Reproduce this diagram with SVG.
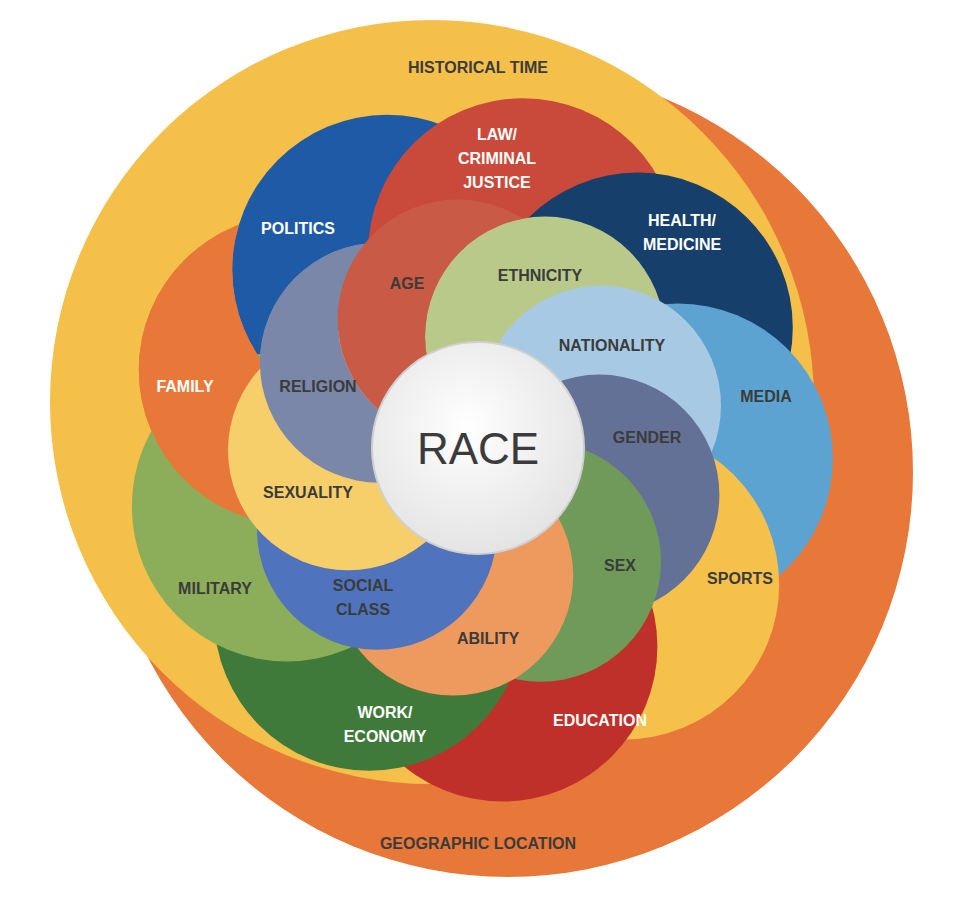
<svg xmlns="http://www.w3.org/2000/svg" width="974" height="904" viewBox="0 0 974 904">
<style>
text{font-family:"Liberation Sans",Arial,sans-serif;font-size:16px;text-anchor:middle;font-weight:bold}
.w{fill:#ffffff}.d{fill:#3b3b3b}
</style>
<defs>
<mask id="mMid"><rect width="974" height="904" fill="#fff"/>
<circle cx="387.2" cy="269.8" r="155" fill="#000"/><circle cx="523" cy="253.2" r="155" fill="#000"/><circle cx="637.8" cy="327.6" r="155" fill="#000"/><circle cx="677.8" cy="458.4" r="155" fill="#000"/></mask>
<mask id="mIn"><rect width="974" height="904" fill="#fff"/>
<circle cx="457.7" cy="319.6" r="120" fill="#000"/><circle cx="545" cy="336.6" r="120" fill="#000"/><circle cx="601" cy="405.6" r="120" fill="#000"/><circle cx="599.4" cy="494.6" r="120" fill="#000"/></mask>
<mask id="mAge"><rect width="974" height="904" fill="#fff"/>
<circle cx="545" cy="336.6" r="120" fill="#000"/><circle cx="601" cy="405.6" r="120" fill="#000"/><circle cx="599.4" cy="494.6" r="120" fill="#000"/></mask>
<radialGradient id="g" cx="0.45" cy="0.4" r="0.6"><stop offset="0" stop-color="#ffffff"/><stop offset="1" stop-color="#e4e4e4"/></radialGradient>
</defs>
<rect width="974" height="904" fill="#fff"/>
<g id="geographic-location"><circle cx="508" cy="472" r="405" fill="#e8783a"/></g>
<g id="historical-time"><circle cx="432" cy="402" r="382" fill="#f5c04a"/></g>
<g id="middle-ring">
<circle cx="293.8" cy="369.8" r="155" fill="#e8783a"/>
<circle id="politics" cx="387.2" cy="269.8" r="155" fill="#1f5aa6"/>
<circle id="law" cx="523" cy="253.2" r="155" fill="#c94a3a"/>
<circle id="health" cx="637.8" cy="327.6" r="155" fill="#163f6b"/>
<circle id="media" cx="677.8" cy="458.4" r="155" fill="#5ca3d2"/>
<circle id="sports" cx="624.2" cy="584.4" r="155" fill="#f6c14b"/>
<circle id="education" cx="502.4" cy="646.6" r="155" fill="#c0302b"/>
<circle id="work" cx="369" cy="615.8" r="155" fill="#3f7a3a"/>
<circle id="military" cx="286.8" cy="506.4" r="155" fill="#8cae5a"/>
<circle id="family" cx="293.8" cy="369.8" r="155" fill="#e8783a" mask="url(#mMid)"/>
</g>
<g id="inner-ring">
<circle cx="379.9" cy="362.7" r="120" fill="#7a87a8"/>
<circle cx="457.7" cy="319.6" r="120" fill="#c85a46"/>
<circle id="ethnicity" cx="545" cy="336.6" r="120" fill="#b8c98a"/>
<circle id="nationality" cx="601" cy="405.6" r="120" fill="#a7c9e3"/>
<circle id="gender" cx="599.4" cy="494.6" r="120" fill="#647196"/>
<circle id="sex" cx="541" cy="561.7" r="120" fill="#6f9a5a"/>
<circle id="ability" cx="453.2" cy="575.6" r="120" fill="#ee9a5e"/>
<circle id="social-class" cx="377" cy="529.8" r="120" fill="#4f74bd"/>
<circle id="sexuality" cx="348" cy="450.3" r="120" fill="#f6cf6b"/>
<circle id="religion" cx="379.9" cy="362.7" r="120" fill="#7a87a8" mask="url(#mIn)"/>
<circle id="age" cx="457.7" cy="319.6" r="120" fill="#c85a46" mask="url(#mAge)"/>
</g>
<g id="race">
<circle cx="478" cy="448" r="106" fill="url(#g)" stroke="#d0d0d0" stroke-width="2"/>
<text x="478" y="464" style="font-size:44px;font-weight:normal" class="d">RACE</text>
</g>
<g id="labels">
<text x="478" y="73" class="d">HISTORICAL TIME</text>
<text x="478" y="849" class="d">GEOGRAPHIC LOCATION</text>
<text x="298" y="234" class="w">POLITICS</text>
<text x="497" y="140" class="w">LAW/</text>
<text x="497" y="164" class="w">CRIMINAL</text>
<text x="497" y="188" class="w">JUSTICE</text>
<text x="682" y="226" class="w">HEALTH/</text>
<text x="682" y="250" class="w">MEDICINE</text>
<text x="766" y="402" class="d">MEDIA</text>
<text x="740" y="584" class="d">SPORTS</text>
<text x="600" y="726" class="w">EDUCATION</text>
<text x="385" y="718" class="w">WORK/</text>
<text x="385" y="742" class="w">ECONOMY</text>
<text x="215" y="594" class="d">MILITARY</text>
<text x="185" y="392" class="w">FAMILY</text>
<text x="407" y="289" class="d">AGE</text>
<text x="540" y="281" class="d">ETHNICITY</text>
<text x="612" y="351" class="d">NATIONALITY</text>
<text x="647" y="443" class="d">GENDER</text>
<text x="620" y="571" class="d">SEX</text>
<text x="488" y="644" class="d">ABILITY</text>
<text x="363" y="591" class="d">SOCIAL</text>
<text x="363" y="615" class="d">CLASS</text>
<text x="308" y="498" class="d">SEXUALITY</text>
<text x="318" y="392" class="d">RELIGION</text>
</g>
</svg>
